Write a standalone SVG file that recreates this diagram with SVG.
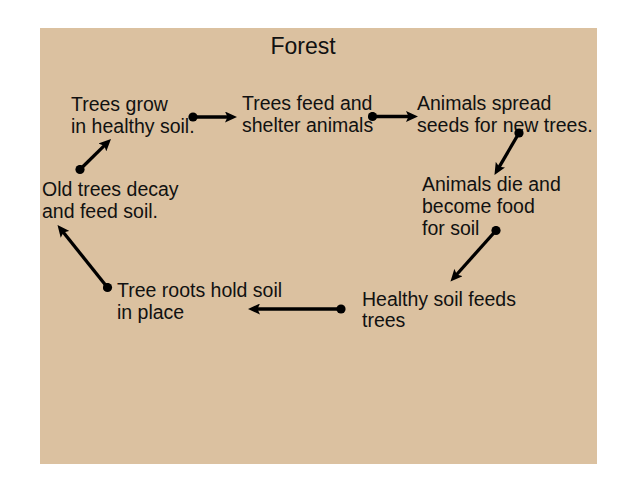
<svg xmlns="http://www.w3.org/2000/svg" width="638" height="493" viewBox="0 0 638 493">
<defs>
<style>
.t{font-family:"Liberation Sans",Arial,sans-serif;font-size:19.5px;fill:#111;}
.title{font-family:"Liberation Sans",Arial,sans-serif;font-size:23px;fill:#111;}
.c{stroke:#000;stroke-width:3.3;fill:none;marker-start:url(#dot);marker-end:url(#head);}
</style>
<marker id="dot" markerUnits="userSpaceOnUse" viewBox="0 0 10 10" refX="5" refY="5" markerWidth="10" markerHeight="10">
<circle cx="5" cy="5" r="4.6" fill="#000"/>
</marker>
<marker id="head" markerUnits="userSpaceOnUse" viewBox="0 0 12 11" refX="4" refY="5.5" markerWidth="12" markerHeight="11" orient="auto">
<path d="M0,0 L12,5.5 L0,11 L2.5,5.5 z" fill="#000"/>
</marker>
</defs>
<rect x="0" y="0" width="638" height="493" fill="#fff"/>
<rect x="40" y="28" width="557" height="436" fill="#dbc1a0"/>
<text class="title" x="303" y="54" text-anchor="middle">Forest</text>
<g id="n1"><text class="t" x="71" y="111">Trees grow</text><text class="t" x="71" y="133">in healthy soil.</text></g>
<g id="n2"><text class="t" x="242" y="110">Trees feed and</text><text class="t" x="242" y="131.5">shelter animals</text></g>
<g id="n3"><text class="t" x="417" y="110">Animals spread</text><text class="t" x="417" y="132">seeds for new trees.</text></g>
<g id="n4"><text class="t" x="422" y="191">Animals die and</text><text class="t" x="422" y="213">become food</text><text class="t" x="422" y="235">for soil</text></g>
<g id="n5"><text class="t" x="362" y="306">Healthy soil feeds</text><text class="t" x="362" y="327">trees</text></g>
<g id="n6"><text class="t" x="117" y="297">Tree roots hold soil</text><text class="t" x="117" y="319">in place</text></g>
<g id="n7"><text class="t" x="42" y="196">Old trees decay</text><text class="t" x="42" y="218">and feed soil.</text></g>
<g id="connectors">
<line class="c" x1="193" y1="117" x2="229" y2="117"/>
<line class="c" x1="372.5" y1="116.5" x2="410" y2="116.5"/>
<line class="c" x1="519" y1="133" x2="498.5" y2="168.1"/>
<line class="c" x1="496" y1="230.5" x2="455.8" y2="275.5"/>
<line class="c" x1="341" y1="309" x2="256" y2="309"/>
<line class="c" x1="107.5" y1="287.5" x2="62.5" y2="231.25"/>
<line class="c" x1="80" y1="169.5" x2="105.3" y2="144.6"/>
</g>
</svg>
